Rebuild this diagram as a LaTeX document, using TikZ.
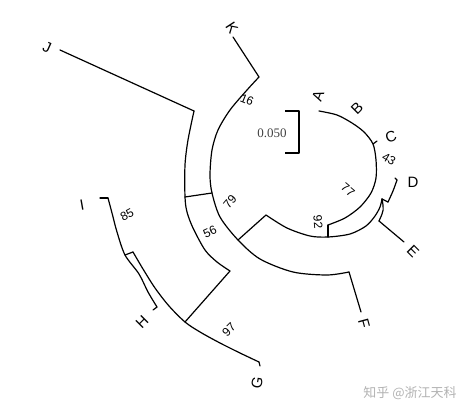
\documentclass[tikz,border=0pt]{standalone}
\usepackage{fontspec}
\setmainfont{Liberation Sans}
\newfontfamily\scalefont{Liberation Serif}
\newfontfamily\cjk{Noto Sans CJK SC}
\usetikzlibrary{positioning}

\tikzset{branch/.style={line width=1.2pt, line join=round, line cap=round},
         taxon/.style={font=\fontsize{15}{15}\selectfont, inner sep=0pt},
         boot/.style={font=\fontsize{12}{12}\selectfont, inner sep=0pt}}

\begin{document}
\begin{tikzpicture}[x=1pt,y=-1pt]
\useasboundingbox (0,0) rectangle (474,414);
% tips and inner nodes
\coordinate (jtip) at (60,50);
\coordinate (jnode) at (194,111);
\coordinate (nA) at (185,197);
\coordinate (nB) at (212,193);
\coordinate (n56) at (230,271);
\coordinate (nIG) at (185,322);
\coordinate (itip) at (100,198);
\coordinate (istub) at (108,198);
\coordinate (hnode) at (125,255);
\coordinate (hcross) at (133,252);
\coordinate (htip) at (157,307);
\coordinate (gtip) at (259,362);
\coordinate (ktip) at (233,37);
\coordinate (knode) at (259,77);
\coordinate (nDE) at (238,240);
\coordinate (nDE2) at (266,215);
\coordinate (fnode) at (349,272);
\coordinate (ftip) at (361,312);
\coordinate (n92) at (328,237);
\coordinate (n92top) at (328,225);
\coordinate (eroot) at (379,221);
\coordinate (etip) at (404,242);
\coordinate (dbar) at (382,199);
\coordinate (dcross) at (388,202);
\coordinate (dtip) at (397,180);
\coordinate (atip) at (319,111);
\coordinate (cnode) at (373,144);
% J, I, H, G
\draw[branch] (jtip) -- (jnode);
\draw[branch] plot[smooth] coordinates {(jnode) (188,140) (185,165) (nA) (187,212) (193,228) (205,250) (217,262) (n56)};
\draw[branch] (nA) -- (nB);
\draw[branch] (n56) -- (nIG);
\draw[branch] (itip) -- (istub);
\draw[branch] plot[smooth] coordinates {(istub) (112,213) (117,232) (hnode) (139,274) (148,292) (htip)};
\draw[branch] (htip) -- (153,310);
\draw[branch] (hnode) -- (hcross);
\draw[branch] plot[smooth] coordinates {(hcross) (143,269) (155,288) (169,306) (nIG) (200,332) (220,343) (240,353) (gtip)};
\draw[branch] (gtip) -- (260,366);
% K to F
\draw[branch] (ktip) -- (knode);
\draw[branch] plot[smooth] coordinates {(knode) (247,90) (230,110) (218,130) (212,150) (210,175) (nB) (220,217) (nDE) (260,259) (293,272) (327,275) (fnode)};
\draw[branch] (fnode) -- (ftip);
% A to E
\draw[branch] (nDE) -- (nDE2);
\draw[branch] plot[smooth] coordinates {(nDE2) (287,228) (310,236) (n92) (350,234) (366,226) (375,216) (380,207) (dbar)};
\draw[branch] (dbar) .. controls (384,210) .. (eroot);
\draw[branch] (eroot) -- (etip);
\draw[branch] (dbar) -- (dcross);
\draw[branch] plot[smooth] coordinates {(dcross) (393,191) (dtip)};
\draw[branch] (dtip) -- (395,178);
\draw[branch] plot[smooth] coordinates {(atip) (337,115) (352,123) (364,132) (cnode) (376,160) (376,178) (371,193) (360,207) (345,218) (n92top)};
\draw[branch] (n92top) -- (n92);
\draw[branch] (cnode) -- (377,141);
% scale bar
\coordinate (sb1) at (285,111);
\coordinate (sb2) at (299,111);
\coordinate (sb3) at (299,153);
\coordinate (sb4) at (285,153);
\draw[branch, line cap=butt] (sb1) -- (sb2) -- (sb3) -- (sb4);
\node[font=\scalefont\fontsize{13}{13}\selectfont, text=black!75] (scale) at (272,133) {0.050};
% taxa
\node[taxon, rotate=-24] (J) at (47,47) {J};
\node[taxon, rotate=-57] (K) at (232,28) {K};
\node[taxon, rotate=70] (A) at (318,96) {A};
\node[taxon, rotate=45] (B) at (357,108) {B};
\node[taxon, rotate=20] (C) at (391,137) {C};
\node[taxon] (D) at (413,182) {D};
\node[taxon, rotate=-45] (E) at (413,251) {E};
\node[taxon, rotate=-75] (F) at (364,324) {F};
\node[taxon, rotate=80] (G) at (257,383) {G};
\node[taxon, rotate=45] (H) at (142,322) {H};
\node[taxon, rotate=10] (I) at (82,205) {I};
% bootstrap values
\node[boot, rotate=-22] (b16) at (247,100) {16};
\node[boot, rotate=50] (b79) at (230,202) {79};
\node[boot, rotate=25] (b56) at (210,232) {56};
\node[boot, rotate=28] (b85) at (127,215) {85};
\node[boot, rotate=45] (b97) at (229,330) {97};
\node[boot, rotate=-85] (b92) at (318,222) {92};
\node[boot, rotate=-40] (b77) at (348,190) {77};
\node[boot, rotate=-30] (b43) at (389,159) {43};
% watermark
\node[font=\cjk\fontsize{13}{13}\selectfont, text=black!30] (mark) at (410,393) {知乎 @浙江天科};
\end{tikzpicture}
\end{document}
